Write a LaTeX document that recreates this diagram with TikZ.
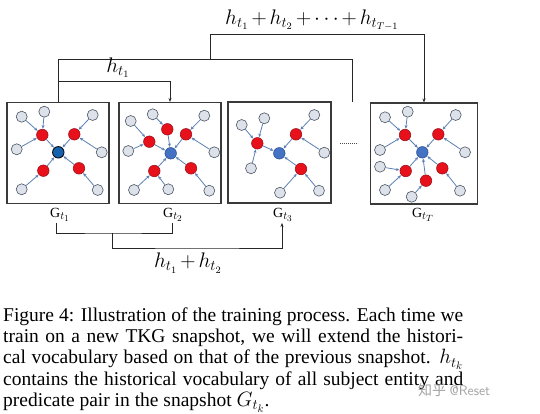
\documentclass[tikz,border=0pt]{standalone}
\usepackage{fontspec}
\usepackage{graphicx}
\setmainfont{Liberation Serif}
\newfontfamily\cjkfont{Noto Sans CJK SC}
\usetikzlibrary{arrows.meta}
\DeclareMathSizes{14}{14}{11}{9}
\DeclareMathSizes{19.5}{19.5}{14}{11}
\definecolor{gfill}{HTML}{DDE2EA}
\definecolor{gdraw}{HTML}{4B5563}
\definecolor{rfill}{HTML}{E8101A}
\definecolor{rdraw}{HTML}{A0101A}
\definecolor{bfill}{HTML}{4472C4}
\definecolor{bdraw}{HTML}{2F528F}
\definecolor{bfilldark}{HTML}{1461AD}
\definecolor{edgecol}{HTML}{5B80B6}
\definecolor{boxcol}{HTML}{3A3A3A}
\newcommand{\hbig}[1]{\scalebox{1.22}{$\medmuskip=2.5mu #1$}}
\tikzset{
  gn/.style={circle, fill=gfill, draw=gdraw, line width=0.6pt, minimum size=11pt, inner sep=0pt},
  rn/.style={circle, fill=rfill, draw=rdraw, line width=0.6pt, minimum size=11.5pt, inner sep=0pt},
  bn/.style={circle, fill=bfill, draw=bdraw, line width=0.6pt, minimum size=11.5pt, inner sep=0pt},
  bnd/.style={circle, fill=bfilldark, draw=black, line width=0.8pt, minimum size=11.5pt, inner sep=0pt},
  ed/.style={draw=edgecol, line width=0.8pt, -{Stealth[length=3.5pt,width=3pt]}, shorten >=0.3pt},
  snapbox/.style={draw=boxcol, line width=1.1pt, minimum height=101pt, inner sep=0pt},
  glab/.style={font=\fontsize{14}{14}\selectfont, inner sep=1pt},
  hlab/.style={font=\fontsize{17}{17}\selectfont, inner sep=1pt},
  conn/.style={draw=black!85, line width=0.9pt},
  arr/.style={-{Stealth[length=4pt,width=3pt]}},
  capline/.style={anchor=base west, inner sep=0pt, font=\fontsize{19.5}{21}\selectfont}
}
\begin{document}
\begin{tikzpicture}[x=1pt,y=-1pt]
\useasboundingbox (0,0) rectangle (540,414);
\fill[white] (0,0) rectangle (540,414);

% snapshot boxes
\node[snapbox, minimum width=102pt] (B1) at (58,153) {};
\node[snapbox, minimum width=102pt] (B2) at (170,153) {};
\node[snapbox, minimum width=103pt] (B3) at (279.5,152.5) {};
\node[snapbox, minimum width=107pt] (B4) at (424,153.5) {};

% box 1
\foreach \n/\x/\y in {1/21.7/116.7, 2/44.3/111.7, 3/92.7/115, 4/16.7/149.3, 5/101.7/152.3, 6/21.7/189.3, 7/97.7/190}
  \node[gn] (ag\n) at (\x,\y) {};
\foreach \n/\x/\y in {1/42.3/135, 2/74.3/134.3, 3/43.3/170.7, 4/79/168.3}
  \node[rn] (ar\n) at (\x,\y) {};
\node[bnd] (ab) at (58.3,152.3) {};
\foreach \a/\b in {ag1/ar1, ag2/ar1, ag4/ar1, ag3/ar2, ag5/ar2, ag6/ar3, ag7/ar4, ar1/ab, ar2/ab, ar3/ab, ar4/ab}
  \draw[ed] (\a) -- (\b);

% box 2
\foreach \n/\x/\y in {1/130.7/121, 2/152.7/114.3, 3/204.3/115.7, 4/128.3/151, 5/214.3/152.3, 6/134/190, 7/168.3/189.3, 8/209.3/190.7}
  \node[gn] (bg\n) at (\x,\y) {};
\foreach \n/\x/\y in {1/167.3/129.3, 2/186/134.3, 3/149.3/141.7, 4/154.3/171, 5/191/168.3}
  \node[rn] (br\n) at (\x,\y) {};
\node[bn] (bb) at (170.7,153.3) {};
\foreach \a/\b in {bg1/br3, bg4/br3, bg2/br1, bg3/br2, bg5/br2, bg6/br4, bg7/br4, bg8/br5, br1/bb, br2/bb, br3/bb, br4/bb, br5/bb}
  \draw[ed] (\a) -- (\b);

% box 3
\foreach \n/\x/\y in {1/241.7/125, 2/264.3/118.3, 3/314.3/115, 4/251/168.3, 5/324.3/152.7, 6/280/192.7, 7/319/190.7}
  \node[gn] (cg\n) at (\x,\y) {};
\foreach \n/\x/\y in {1/257.3/143.3, 2/296/134.3, 3/301/169}
  \node[rn] (cr\n) at (\x,\y) {};
\node[bn] (cb) at (279.3,153.3) {};
\foreach \a/\b in {cg1/cr1, cg2/cr1, cg4/cr1, cg3/cr2, cg5/cr2, cg6/cr3, cg7/cr3, cr1/cb, cr2/cb, cr3/cb}
  \draw[ed] (\a) -- (\b);

% box 4
\foreach \n/\x/\y in {1/385/117.3, 2/407.7/111.7, 3/455.7/115, 4/380/150, 5/465/152.3, 6/380/166.7, 7/385/190, 8/411.7/196.7, 9/460/190.7}
  \node[gn] (dg\n) at (\x,\y) {};
\foreach \n/\x/\y in {1/405/135, 2/438.3/134.3, 3/405.7/171, 4/426/180.7, 5/442.3/168.3}
  \node[rn] (dr\n) at (\x,\y) {};
\node[bn] (db) at (422.3,152.3) {};
\foreach \a/\b in {dg1/dr1, dg2/dr1, dg4/dr1, dg3/dr2, dg5/dr2, dg6/dr3, dg7/dr3, dg8/dr4, dg9/dr5, dr1/db, dr2/db, dr3/db, dr4/db, dr5/db}
  \draw[ed] (\a) -- (\b);

% dots between box 3 and box 4
\draw[black!70, line width=0.8pt, dash pattern=on 0.8pt off 1.2pt] (340,143) -- (358,143);

% snapshot labels
\node[glab] (L1) at (60,215) {G$_{t_1}$};
\node[glab] (L2) at (173,215) {G$_{t_2}$};
\node[glab] (L3) at (283,215) {G$_{t_3}$};
\node[glab] (L4) at (423,215) {G$_{t_T}$};

% top connectors
\coordinate (k1) at (170,81);
\coordinate (k2) at (352,59);
\coordinate (g34) at (352,102);
\coordinate (k3) at (210,59);
\coordinate (k4) at (0,34);
\draw[conn,arr] (B1.north) |- (k1) -- (B2.north);
\draw[conn] (B1.north) |- (k2) -- (g34);
\draw[conn,arr] (k3) |- (k4 -| B4.north) -- (B4.north);
\node[hlab] (h1) at (118,68) {\hbig{h_{t_1}}};
\node[hlab] (h3) at (312,20) {\hbig{h_{t_1}+h_{t_2}+\cdots+h_{t_{T-1}}}};

% bottom connectors
\coordinate (m1) at (112,233);
\coordinate (m2) at (197,248);
\draw[conn] ([xshift=-4pt]L1.south) |- (m1) -| ([xshift=-1pt]L2.south);
\draw[conn,arr] (m1) |- (m2) -| ([xshift=-1pt]L3.south);
\node[hlab] (h2) at (188,263) {\hbig{h_{t_1}+h_{t_2}}};

% caption
\node[capline] (c1) at (3,321.5) {\makebox[460pt][s]{Figure 4: Illustration of the training process. Each time we}};
\node[capline] (c2) at (3,342.7) {\makebox[460pt][s]{train on a new TKG snapshot, we will extend the histori-}};
\node[capline] (c3) at (3,363.9) {\makebox[460pt][s]{cal vocabulary based on that of the previous snapshot. $h_{t_k}$}};
\node[capline] (c4) at (3,385.1) {\makebox[460pt][s]{contains the historical vocabulary of all subject entity and}};
\node[capline] (c5) at (3,406.3) {predicate pair in the snapshot $G_{t_k}$.};

% watermark
\node[text=black!45, opacity=0.8, font=\fontsize{14}{14}\selectfont, anchor=west, inner sep=0pt] (wm) at (418,390) {{\cjkfont 知乎}\ {\sffamily @Reset}};
\end{tikzpicture}
\end{document}
